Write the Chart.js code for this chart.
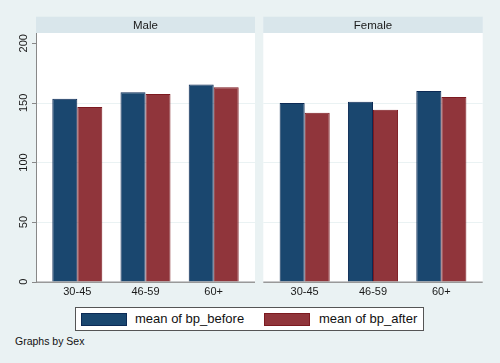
<!DOCTYPE html>
<html>
<head>
<meta charset="utf-8">
<script src="https://cdn.jsdelivr.net/npm/chart.js@4"></script>
<style>
  body { margin: 0; background: #eaf2f3; font-family: "Liberation Sans", Arial, sans-serif; }
  #wrap { position: relative; width: 500px; height: 363px; background: #eaf2f3; overflow: hidden; }
  canvas { position: absolute; top: 0; }
  #maleChart { left: 0; }
  #femaleChart { left: 258px; }
  .legend { position: absolute; left: 75px; top: 307px; width: 347px; height: 22px; background: #fff; border: 1px solid #555; }
  .sw { position: absolute; top: 5px; width: 44px; height: 11px; }
  .lt { position: absolute; top: 3px; font-size: 13px; color: #111; white-space: nowrap; }
  .note { position: absolute; left: 15px; top: 335px; font-size: 10.5px; color: #111; }
</style>
</head>
<body>
<div id="wrap">
  <canvas id="maleChart" width="260" height="300"></canvas>
  <canvas id="femaleChart" width="242" height="300"></canvas>
  <div class="legend">
    <div class="sw" style="left:5px;background:#1a476f;border:1px solid #0c2a55"></div>
    <div class="lt" style="left:59px">mean of bp_before</div>
    <div class="sw" style="left:188px;background:#90353b;border:1px solid #7c1a20"></div>
    <div class="lt" style="left:243px">mean of bp_after</div>
  </div>
  <div class="note">Graphs by Sex</div>
</div>
<script>
const ageGroups = ["30-45", "46-59", "60+"];
const maleBefore = [153.5, 158.8, 165.3];
const maleAfter = [146.5, 157.5, 163.0];
const femaleBefore = [149.9, 151.0, 160.0];
const femaleAfter = [141.8, 144.3, 155.0];
const yTicks = [0, 50, 100, 150, 200];

const FONT = "'Liberation Sans', Arial, sans-serif";

// draws the stata-ish panel: white plot region, title strip, grid, axes
const panelFrame = {
  id: 'panelFrame',
  beforeDraw(chart, args, opts) {
    const {ctx, chartArea, scales} = chart;
    const y = scales.y;
    const left = chartArea.left - opts.pad;
    const right = chartArea.right + opts.pad;
    const top = chartArea.top;
    const bottom = chartArea.bottom;
    ctx.save();
    ctx.fillStyle = '#ffffff';
    ctx.fillRect(left, top, right - left, bottom - top);
    // strip
    ctx.fillStyle = '#d9e6eb';
    ctx.fillRect(left, 16.7, right - left, top - 16.7);
    ctx.fillStyle = '#1a1a1a';
    ctx.font = '11.5px ' + FONT;
    ctx.textAlign = 'center';
    ctx.textBaseline = 'middle';
    ctx.fillText(opts.title, (left + right) / 2, (16.7 + top) / 2 + 0.5);
    // grid
    ctx.strokeStyle = '#eaf2f3';
    ctx.lineWidth = 1;
    yTicks.forEach(v => {
      if (v === 0 || v === 200) return;
      const py = Math.round(y.getPixelForValue(v)) + 0.5;
      ctx.beginPath();
      ctx.moveTo(left, py);
      ctx.lineTo(right, py);
      ctx.stroke();
    });
    ctx.restore();
  },
  afterDatasetsDraw(chart, args, opts) {
    const {ctx, chartArea, scales} = chart;
    const y = scales.y;
    const left = chartArea.left - opts.pad;
    const right = chartArea.right + opts.pad;
    ctx.save();
    ctx.strokeStyle = '#999999';
    ctx.lineWidth = 1.5;
    ctx.beginPath();
    ctx.moveTo(left, chartArea.bottom + 0.5);
    ctx.lineTo(right, chartArea.bottom + 0.5);
    ctx.stroke();
    if (opts.yAxis) {
      ctx.strokeStyle = '#888888';
      ctx.lineWidth = 1;
      ctx.beginPath();
      ctx.moveTo(left + 0.5, chartArea.top);
      ctx.lineTo(left + 0.5, chartArea.bottom + 1);
      ctx.stroke();
      ctx.fillStyle = '#1a1a1a';
      ctx.font = '11px ' + FONT;
      ctx.textAlign = 'center';
      ctx.textBaseline = 'middle';
      yTicks.forEach(v => {
        const py = y.getPixelForValue(v);
        ctx.beginPath();
        ctx.moveTo(left - 4, Math.round(py) + 0.5);
        ctx.lineTo(left, Math.round(py) + 0.5);
        ctx.stroke();
        ctx.save();
        ctx.translate(left - 12, py);
        ctx.rotate(-Math.PI / 2);
        ctx.fillText(String(v), 0, 0);
        ctx.restore();
      });
    }
    ctx.restore();
  }
};

function makePanel(id, title, before, after, padLeft, padRight, showY) {
  return new Chart(document.getElementById(id), {
    type: 'bar',
    data: {
      labels: ageGroups,
      datasets: [
        {
          label: 'mean of bp_before',
          data: before,
          backgroundColor: '#1a476f',
          borderColor: '#0c2a55',
          borderWidth: 1,
          categoryPercentage: 0.733,
          barPercentage: 1
        },
        {
          label: 'mean of bp_after',
          data: after,
          backgroundColor: '#90353b',
          borderColor: '#7c1a20',
          borderWidth: 1,
          categoryPercentage: 0.733,
          barPercentage: 1
        }
      ]
    },
    options: {
      responsive: false,
      animation: false,
      layout: {
        padding: { left: padLeft, right: padRight, top: 33, bottom: 0 }
      },
      plugins: {
        legend: { display: false },
        tooltip: { enabled: false },
        panelFrame: { title: title, pad: 7.2, yAxis: showY }
      },
      scales: {
        x: {
          grid: { display: false, drawTicks: false },
          border: { display: false },
          ticks: {
            color: '#1a1a1a',
            padding: 4,
            font: { family: FONT, size: 11 }
          },
          afterFit(scale) { scale.height = 18.3; }
        },
        y: {
          display: false,
          min: 0,
          max: 208.6
        }
      }
    },
    plugins: [panelFrame]
  });
}

makePanel('maleChart', 'Male', maleBefore, maleAfter, 43.2, 12.2, true);
makePanel('femaleChart', 'Female', femaleBefore, femaleAfter, 12.5, 242 - 217.5, false);
</script>
</body>
</html>
